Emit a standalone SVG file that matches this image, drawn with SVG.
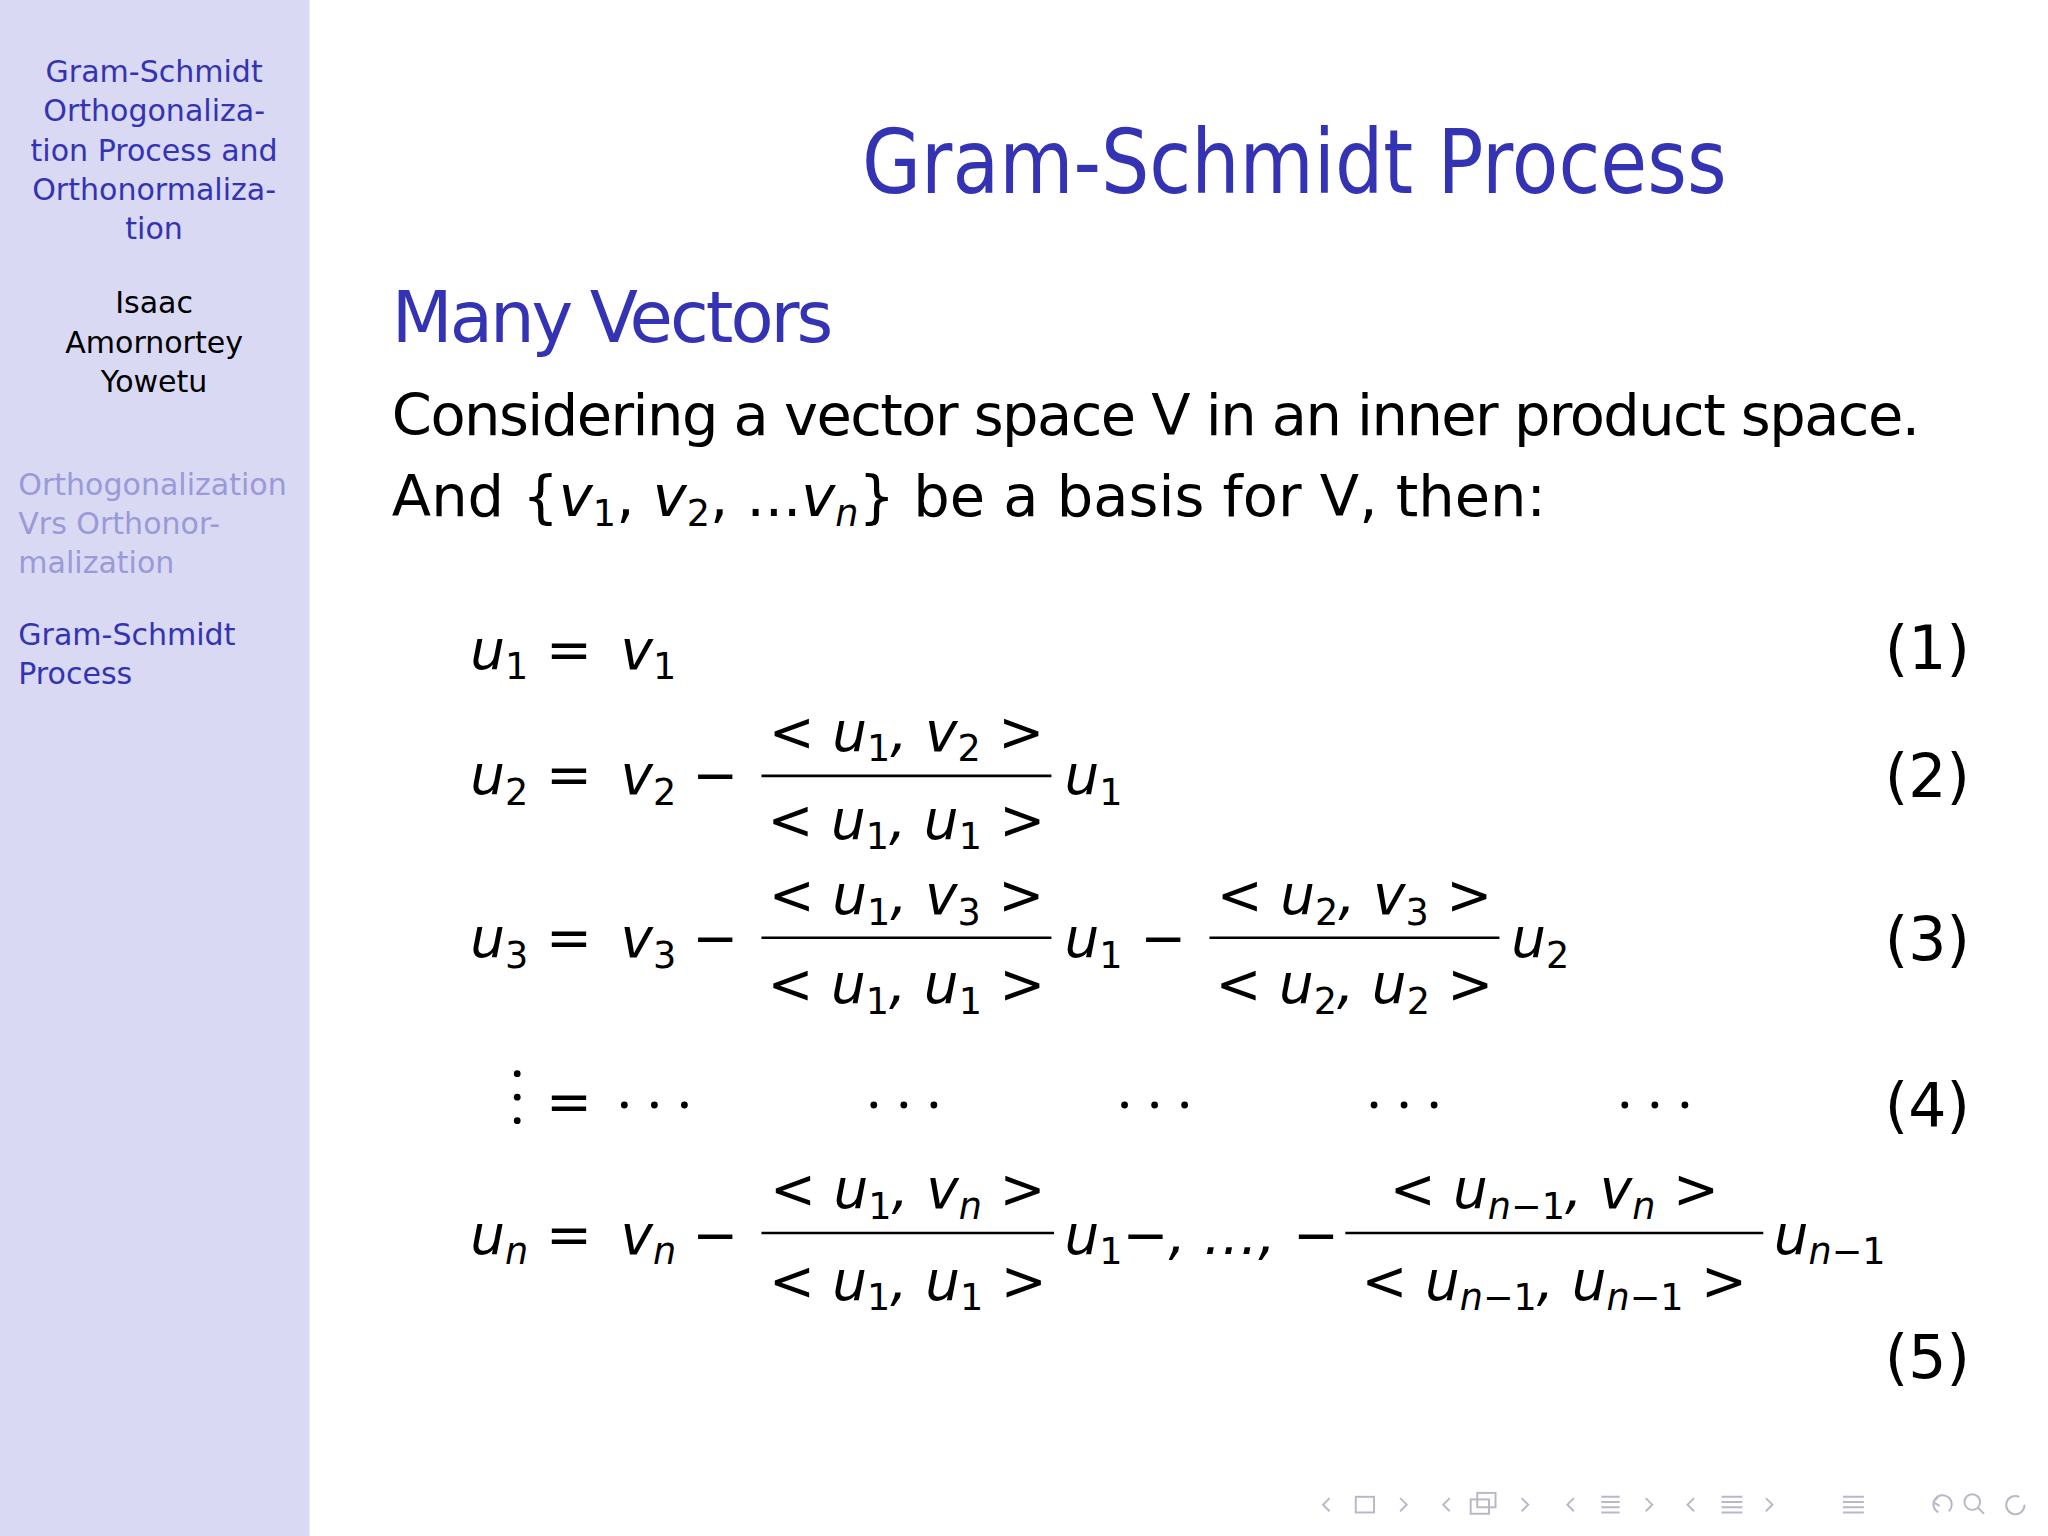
<svg xmlns="http://www.w3.org/2000/svg" width="2048" height="1536" viewBox="0 0 2048 1536">
<style>
.sb{font-family:"DejaVu Sans","Liberation Sans",sans-serif;font-size:23px;fill:#3333b3;text-anchor:middle}
.au{font-family:"DejaVu Sans",sans-serif;font-size:23px;fill:#000;text-anchor:middle}
.sec{font-family:"DejaVu Sans",sans-serif;font-size:23px;fill:#9a9ad9}
.cur{font-family:"DejaVu Sans",sans-serif;font-size:23px;fill:#3333b3}
.t{font-family:"DejaVu Sans",sans-serif;fill:#3333b3}
.b{font-family:"DejaVu Sans",sans-serif;font-size:44px;fill:#000}
.m{font-family:"DejaVu Sans",sans-serif;font-size:42px;fill:#000;font-style:italic}
.r{font-family:"DejaVu Sans",sans-serif;font-size:42px;fill:#000}
.n{font-family:"DejaVu Sans",sans-serif;font-size:46px;fill:#000}
.s{font-size:28px;font-style:normal}
.si{font-size:28px;font-style:italic}
.fl{stroke:#000;stroke-width:2}
.nav{fill:none;stroke:#b8b8c8;stroke-width:1.5}
</style>
<rect width="2048" height="1536" fill="#fff"/>
<g transform="scale(1.306122)">
<g id="sidebar">
<rect x="0" y="0" width="237" height="1176" fill="#d9d9f3"/>
<text class="sb" x="118" y="63">Gram-Schmidt</text>
<text class="sb" x="118" y="93">Orthogonaliza-</text>
<text class="sb" x="118" y="123">tion Process and</text>
<text class="sb" x="118" y="153">Orthonormaliza-</text>
<text class="sb" x="118" y="183">tion</text>
<text class="au" x="118" y="240">Isaac</text>
<text class="au" x="118" y="270">Amornortey</text>
<text class="au" x="118" y="300">Yowetu</text>
<text class="sec" x="14" y="379">Orthogonalization</text>
<text class="sec" x="14" y="409">Vrs Orthonor-</text>
<text class="sec" x="14" y="439">malization</text>
<text class="cur" x="14" y="494">Gram-Schmidt</text>
<text class="cur" x="14" y="524">Process</text>
</g>
<g id="title">
<text class="t" x="660" y="148" font-size="68" textLength="662" lengthAdjust="spacingAndGlyphs">Gram-Schmidt Process</text>
<text class="t" x="300" y="262" font-size="54" textLength="338">Many Vectors</text>
<text class="b" x="300" y="333" textLength="1170">Considering a vector space V in an inner product space.</text>
<text class="b" x="300" y="395">And {<tspan font-style="italic">v</tspan><tspan class="s" dy="8">1</tspan><tspan dy="-8">, </tspan><tspan font-style="italic">v</tspan><tspan class="s" dy="8">2</tspan><tspan dy="-8">, ...</tspan><tspan font-style="italic">v</tspan><tspan class="si" dy="8">n</tspan><tspan dy="-8">} be a basis for V, then:</tspan></text>
</g>
<g id="equations">
<text class="m" x="360" y="512">u<tspan class="s" dy="8">1</tspan><tspan class="r" dy="-8" x="418">=</tspan><tspan x="475">v</tspan><tspan class="s" dy="8">1</tspan></text>
<text class="n" x="1443" y="512">(1)</text>

<text class="m" x="360" y="608">u<tspan class="s" dy="8">2</tspan><tspan class="r" dy="-8" x="418">=</tspan><tspan x="475">v</tspan><tspan class="s" dy="8">2</tspan><tspan class="r" dy="-8" x="530">−</tspan></text>
<text class="m" x="694" y="575" text-anchor="middle"><tspan font-style="normal">&lt; </tspan>u<tspan class="s" dy="8">1</tspan><tspan dy="-8">, v</tspan><tspan class="s" dy="8">2</tspan><tspan font-style="normal" dy="-8"> &gt;</tspan></text>
<line class="fl" x1="583" y1="594" x2="805" y2="594"/>
<text class="m" x="694" y="642" text-anchor="middle"><tspan font-style="normal">&lt; </tspan>u<tspan class="s" dy="8">1</tspan><tspan dy="-8">, u</tspan><tspan class="s" dy="8">1</tspan><tspan font-style="normal" dy="-8"> &gt;</tspan></text>
<text class="m" x="815" y="608">u<tspan class="s" dy="8">1</tspan></text>
<text class="n" x="1443" y="610">(2)</text>

<text class="m" x="360" y="733">u<tspan class="s" dy="8">3</tspan><tspan class="r" dy="-8" x="418">=</tspan><tspan x="475">v</tspan><tspan class="s" dy="8">3</tspan><tspan class="r" dy="-8" x="530">−</tspan></text>
<text class="m" x="694" y="700" text-anchor="middle"><tspan font-style="normal">&lt; </tspan>u<tspan class="s" dy="8">1</tspan><tspan dy="-8">, v</tspan><tspan class="s" dy="8">3</tspan><tspan font-style="normal" dy="-8"> &gt;</tspan></text>
<line class="fl" x1="583" y1="718" x2="805" y2="718"/>
<text class="m" x="694" y="768" text-anchor="middle"><tspan font-style="normal">&lt; </tspan>u<tspan class="s" dy="8">1</tspan><tspan dy="-8">, u</tspan><tspan class="s" dy="8">1</tspan><tspan font-style="normal" dy="-8"> &gt;</tspan></text>
<text class="m" x="815" y="733">u<tspan class="s" dy="8">1</tspan><tspan class="r" dy="-8" x="873">−</tspan></text>
<text class="m" x="1037" y="700" text-anchor="middle"><tspan font-style="normal">&lt; </tspan>u<tspan class="s" dy="8">2</tspan><tspan dy="-8">, v</tspan><tspan class="s" dy="8">3</tspan><tspan font-style="normal" dy="-8"> &gt;</tspan></text>
<line class="fl" x1="926" y1="718" x2="1148" y2="718"/>
<text class="m" x="1037" y="768" text-anchor="middle"><tspan font-style="normal">&lt; </tspan>u<tspan class="s" dy="8">2</tspan><tspan dy="-8">, u</tspan><tspan class="s" dy="8">2</tspan><tspan font-style="normal" dy="-8"> &gt;</tspan></text>
<text class="m" x="1157" y="733">u<tspan class="s" dy="8">2</tspan></text>
<text class="n" x="1443" y="735">(3)</text>

<g fill="#000">
<circle cx="396" cy="822" r="2.6"/><circle cx="396" cy="840" r="2.6"/><circle cx="396" cy="858" r="2.6"/>
</g>
<text class="r" x="418" y="858">=</text>
<g fill="#000">
<circle cx="478" cy="846" r="2.6"/><circle cx="501" cy="846" r="2.6"/><circle cx="524" cy="846" r="2.6"/>
<circle cx="669" cy="846" r="2.6"/><circle cx="692" cy="846" r="2.6"/><circle cx="715" cy="846" r="2.6"/>
<circle cx="861" cy="846" r="2.6"/><circle cx="884" cy="846" r="2.6"/><circle cx="907" cy="846" r="2.6"/>
<circle cx="1052" cy="846" r="2.6"/><circle cx="1075" cy="846" r="2.6"/><circle cx="1098" cy="846" r="2.6"/>
<circle cx="1244" cy="846" r="2.6"/><circle cx="1267" cy="846" r="2.6"/><circle cx="1290" cy="846" r="2.6"/>
</g>
<text class="n" x="1443" y="862">(4)</text>

<text class="m" x="360" y="960">u<tspan class="si" dy="8">n</tspan><tspan class="r" dy="-8" x="418">=</tspan><tspan x="475">v</tspan><tspan class="si" dy="8">n</tspan><tspan class="r" dy="-8" x="530">−</tspan></text>
<text class="m" x="695" y="925" text-anchor="middle"><tspan font-style="normal">&lt; </tspan>u<tspan class="s" dy="8">1</tspan><tspan dy="-8">, v</tspan><tspan class="si" dy="8">n</tspan><tspan font-style="normal" dy="-8"> &gt;</tspan></text>
<line class="fl" x1="583" y1="944" x2="807" y2="944"/>
<text class="m" x="695" y="995" text-anchor="middle"><tspan font-style="normal">&lt; </tspan>u<tspan class="s" dy="8">1</tspan><tspan dy="-8">, u</tspan><tspan class="s" dy="8">1</tspan><tspan font-style="normal" dy="-8"> &gt;</tspan></text>
<text class="m" x="815" y="960">u<tspan class="s" dy="8">1</tspan><tspan class="r" dy="-8">−, …, −</tspan></text>
<text class="m" x="1190" y="925" text-anchor="middle"><tspan font-style="normal">&lt; </tspan>u<tspan class="si" dy="8">n</tspan><tspan class="s">−1</tspan><tspan dy="-8">, v</tspan><tspan class="si" dy="8">n</tspan><tspan font-style="normal" dy="-8"> &gt;</tspan></text>
<line class="fl" x1="1030" y1="944" x2="1350" y2="944"/>
<text class="m" x="1190" y="995" text-anchor="middle"><tspan font-style="normal">&lt; </tspan>u<tspan class="si" dy="8">n</tspan><tspan class="s">−1</tspan><tspan dy="-8">, u</tspan><tspan class="si" dy="8">n</tspan><tspan class="s">−1</tspan><tspan font-style="normal" dy="-8"> &gt;</tspan></text>
<text class="m" x="1358" y="960">u<tspan class="si" dy="8">n</tspan><tspan class="s">−1</tspan></text>
<text class="n" x="1443" y="1055">(5)</text>
</g>
<g id="nav">
<path class="nav" d="M1018 1147 l-5 5 l5 5"/><rect class="nav" x="1038" y="1146" width="14" height="12"/><path class="nav" d="M1072 1147 l5 5 l-5 5"/>
<path class="nav" d="M1110 1147 l-5 5 l5 5"/><rect class="nav" x="1126" y="1148" width="14" height="11"/><rect class="nav" x="1131" y="1143" width="14" height="11"/><path class="nav" d="M1165 1147 l5 5 l-5 5"/>
<path class="nav" d="M1205 1147 l-5 5 l5 5"/><path class="nav" d="M1226 1146 h14 M1226 1150 h14 M1226 1154 h14 M1226 1158 h14"/><path class="nav" d="M1260 1147 l5 5 l-5 5"/>
<path class="nav" d="M1297 1147 l-5 5 l5 5"/><path class="nav" d="M1318 1146 h16 M1318 1150 h16 M1318 1154 h16 M1318 1158 h16"/><path class="nav" d="M1352 1147 l5 5 l-5 5"/>
<path class="nav" d="M1411 1146 h16 M1411 1150 h16 M1411 1154 h16 M1411 1158 h16"/>
<path class="nav" d="M1484 1158 a7 7 0 1 1 8 -1 M1480 1150 l4 -4 M1480 1150 l5 3"/>
<circle class="nav" cx="1510" cy="1150" r="6"/><path class="nav" d="M1514 1154 l5 5"/>
<path class="nav" d="M1546 1146 a7 7 0 1 0 4 6"/>
</g>
</g>
</svg>
